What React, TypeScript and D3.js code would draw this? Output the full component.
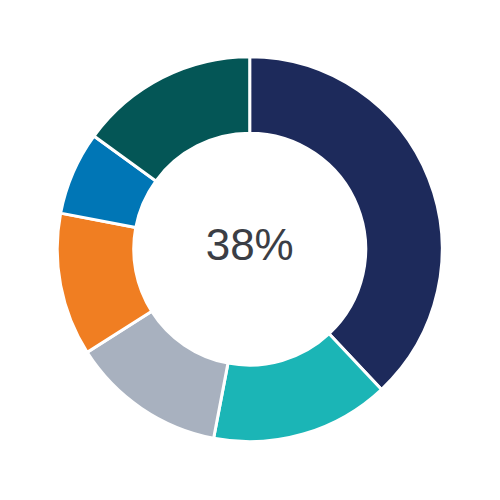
import React, { useEffect, useRef } from "react";
import * as d3 from "d3";

const categories = ["A", "B", "C", "D", "E", "F"];
const values = [38, 15, 13, 12, 7, 15];
const colors = ["#1d2a5b", "#1bb5b6", "#a8b1bf", "#f07e22", "#0076b6", "#045656"];
const centerLabel = "38%";

const width = 500;
const height = 500;

export default function App(): JSX.Element {
  const ref = useRef<SVGSVGElement>(null);

  useEffect(() => {
    const svg = d3.select(ref.current);
    svg.selectAll("*").remove();

    const g = svg
      .append("g")
      .attr("transform", `translate(${width / 2 - 0.3},${height / 2 - 0.8})`);

    const data = categories.map((c, i) => ({ name: c, value: values[i], color: colors[i] }));
    const pie = d3
      .pie<{ name: string; value: number; color: string }>()
      .value((d) => d.value)
      .sort(null);
    const arc = d3
      .arc<d3.PieArcDatum<{ name: string; value: number; color: string }>>()
      .innerRadius(116)
      .outerRadius(192.5);

    g.selectAll("path")
      .data(pie(data))
      .enter()
      .append("path")
      .attr("d", arc)
      .attr("fill", (d) => d.data.color)
      .attr("stroke", "#fff")
      .attr("stroke-width", 3);

    g.append("text")
      .attr("x", 0)
      .attr("y", 11)
      .attr("text-anchor", "middle")
      .style("font-family", "'Liberation Sans', Arial, sans-serif")
      .style("font-size", "44px")
      .attr("fill", "#3b3e45")
      .text(centerLabel);
  }, []);

  return (
    <svg
      ref={ref}
      width={width}
      height={height}
      style={{ position: "absolute", left: 0, top: 0, background: "#fff" }}
    />
  );
}
